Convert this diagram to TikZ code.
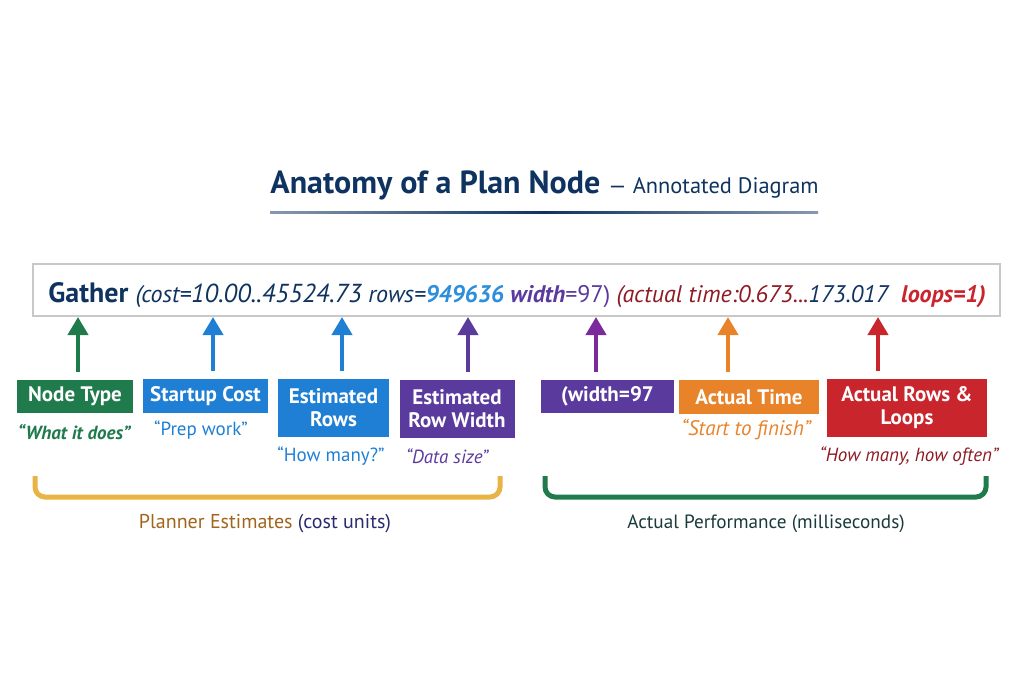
\documentclass[tikz,border=0pt]{standalone}
\usepackage{fontspec}
\setmainfont{PT Sans}
\usepackage{xcolor}
\usetikzlibrary{arrows.meta,positioning,calc}

\definecolor{navy}{HTML}{0F3360}
\definecolor{plangreen}{HTML}{1F7A4C}
\definecolor{planblue}{HTML}{1F7FD4}
\definecolor{skyblue}{HTML}{2D8FDB}
\definecolor{planpurple}{HTML}{5B3A9E}
\definecolor{magpurple}{HTML}{7A2A9C}
\definecolor{planorange}{HTML}{E8832A}
\definecolor{planred}{HTML}{C8252D}
\definecolor{darkred}{HTML}{8E1B24}
\definecolor{gold}{HTML}{E8B445}
\definecolor{brown}{HTML}{A0651A}
\definecolor{indigo}{HTML}{2A2A70}
\definecolor{pine}{HTML}{1A3A3A}
\definecolor{boxgray}{HTML}{C8C8C8}

\begin{document}
\begin{tikzpicture}[x=0.5pt,y=-0.5pt,
    lbl/.style={fill=#1, text=white, font=\bfseries\fontsize{10.5}{11.5}\selectfont, align=center, inner sep=0pt},
    up/.style={draw=#1, line width=2pt, -{Triangle[width=10pt,length=9pt]}, shorten <=4pt},
    quote/.style={text=#1, font=\itshape\fontsize{9.5}{11}\selectfont}]
    \useasboundingbox (0,0) rectangle (1024,675);

    % Title
    \node[anchor=base west, inner sep=0pt, text=navy] (title) at (270,193)
        {\bfseries\fontsize{16}{18}\selectfont Anatomy of a Plan Node\ \mdseries\fontsize{11.2}{13}\selectfont --- Annotated Diagram};
    \shade[left color=navy!50, right color=navy!50, middle color=navy] (270,211) rectangle (818,213.5);

    % Plan line
    \node[draw=boxgray, line width=0.6pt, fill=white, minimum width=483.5pt, minimum height=26pt] (plan) at (516.5,290) {};
    \node[anchor=base west, inner sep=0pt, text=navy, font=\fontsize{12}{14}\selectfont] (plantext) at (48,302)
        {\bfseries\fontsize{14}{16}\selectfont Gather\ \mdseries\itshape\fontsize{12}{14}\selectfont (cost={\fontsize{13}{14}\selectfont 10.00..45524.73} rows=\textcolor{skyblue}{\bfseries 949636}
        \textcolor{planpurple}{\bfseries width\upshape\mdseries =97)} \textcolor{darkred}{(actual time:0.673...}173.017\ \ \textcolor{planred}{\bfseries loops=1)}};

    % Arrow targets
    \coordinate (t1) at (78,317);
    \coordinate (t2) at (213,317);
    \coordinate (t3) at (342,317);
    \coordinate (t4) at (468,317);
    \coordinate (t5) at (596,317);
    \coordinate (t6) at (728,317);
    \coordinate (t7) at (878,317);

    % Labels
    \node[lbl=plangreen, minimum width=58pt, minimum height=16.5pt] (type) at (75,396.5) {Node Type};
    \node[lbl=planblue, minimum width=62.5pt, minimum height=17pt] (startup) at (205.5,396) {Startup Cost};
    \node[lbl=planblue, minimum width=55.5pt, minimum height=29pt] (rows) at (333.5,408) {Estimated\\Rows};
    \node[lbl=planpurple, minimum width=57.5pt, minimum height=29pt] (rowwidth) at (457,409) {Estimated\\Row Width};
    \node[lbl=planpurple, minimum width=66.5pt, minimum height=16.5pt] (width) at (607.5,396.5) {(width=97};
    \node[lbl=planorange, minimum width=70pt, minimum height=17pt] (time) at (749,397) {Actual Time};
    \node[lbl=planred, minimum width=80pt, minimum height=29pt] (loops) at (907,408) {Actual Rows \&\\Loops};

    % Arrows
    \draw[up=plangreen] (t1 |- type.north) -- (t1);
    \draw[up=planblue] (t2 |- startup.north) -- (t2);
    \draw[up=planblue] (t3 |- rows.north) -- (t3);
    \draw[up=planpurple] (t4 |- rowwidth.north) -- (t4);
    \draw[up=magpurple] (t5 |- width.north) -- (t5);
    \draw[up=planorange] (t6 |- time.north) -- (t6);
    \draw[up=planred] (t7 |- loops.north) -- (t7);

    % Quotes
    \node[quote=plangreen, font=\bfseries\itshape\fontsize{9.5}{11}\selectfont] (q1) at (74,432) {“What it does”};
    \node[quote=planblue, font=\fontsize{9.5}{11}\selectfont] (q2) at (201,430) {“Prep work”};
    \node[quote=planblue, font=\fontsize{9.5}{11}\selectfont] (q3) at (331,456) {“How many?”};
    \node[quote=planpurple] (q4) at (447,456) {“Data size”};
    \node[quote=planorange, font=\itshape\fontsize{10.5}{12}\selectfont] (q6) at (746,430) {“Start to finish”};
    \node[quote=darkred] (q7) at (909,456) {“How many, how often”};

    % Brackets
    \draw[gold, line width=2.5pt, rounded corners=5pt] (35,476) -- (35,497) -- (500,497) -- (500,476);
    \draw[plangreen, line width=2.5pt, rounded corners=5pt] (545,476) -- (545,497) -- (986,497) -- (986,476);
    \node[font=\fontsize{10}{12}\selectfont] (est) at (265,524) {\textcolor{brown}{Planner Estimates} \textcolor{indigo}{(cost units)}};
    \node[font=\fontsize{9.6}{12}\selectfont, text=pine] (perf) at (766,524) {Actual Performance (milliseconds)};
\end{tikzpicture}
\end{document}
